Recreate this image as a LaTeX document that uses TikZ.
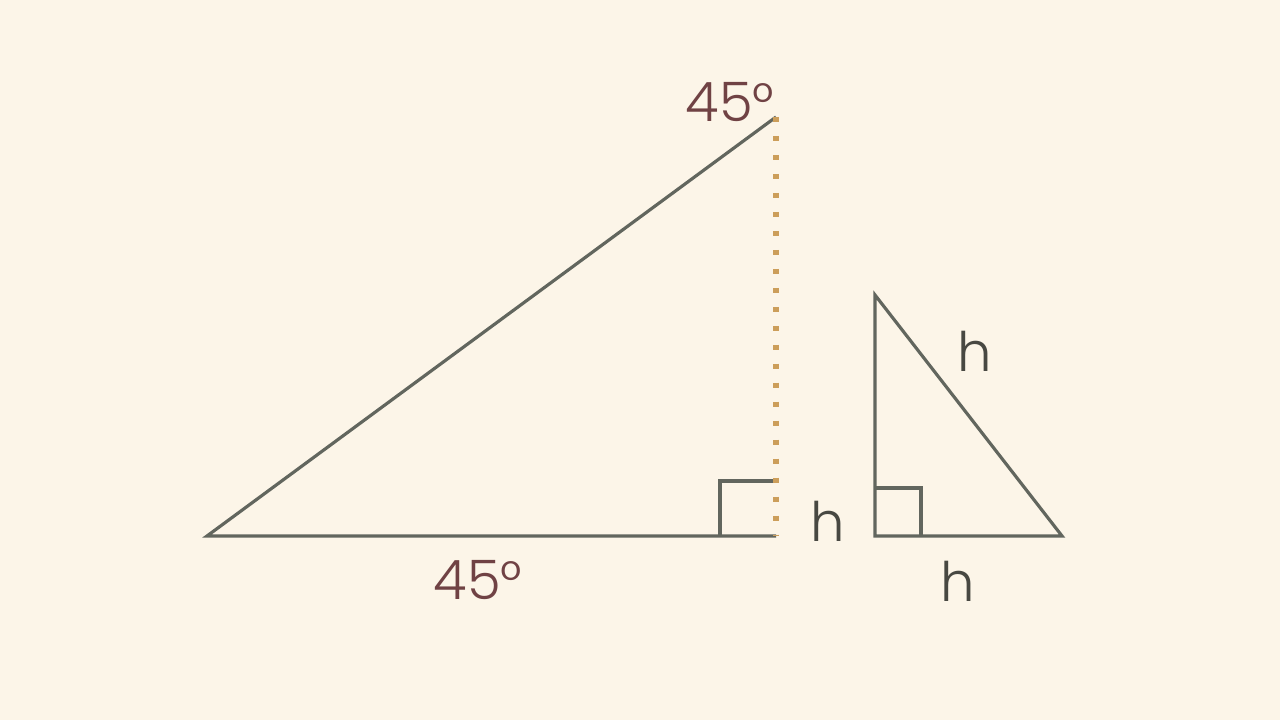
\documentclass[tikz,border=0pt]{standalone}
\usepackage{fontspec}
\setmainfont{Poppins Light}
\definecolor{paper}{RGB}{252,245,232}
\definecolor{edge}{RGB}{98,102,94}
\definecolor{dotline}{RGB}{204,158,90}
\definecolor{angtext}{RGB}{112,66,68}
\definecolor{htext}{RGB}{72,72,66}
\begin{document}
\begin{tikzpicture}[line width=.9pt,font=\fontsize{15.5}{18}\selectfont]
        \fill[paper](0,0)rectangle(12.8,7.2);
        \useasboundingbox(0,0)rectangle(12.8,7.2);
        % big triangle
        \coordinate(A)at(2.07,1.84);
        \coordinate(B)at(7.76,1.84);
        \coordinate(C)at(7.76,6.03);
        \draw[edge](B)--(A)--(C);
        \draw[edge](7.2,1.84)--(7.2,2.39)--(7.76,2.39);
        \draw[dotline,line width=1.5pt,dash pattern=on 1.5pt off 3.9pt](C)--(B);
        \node[angtext](topang)at(7.3,6.18){45°};
        \node[angtext](botang)at(4.78,1.4){45°};
        \node[htext](hleft)at(8.28,1.99){h};
        % small triangle
        \coordinate(D)at(8.75,1.84);
        \coordinate(E)at(8.75,4.25);
        \coordinate(F)at(10.62,1.84);
        \draw[edge](D)--(E)--(F)--cycle;
        \draw[edge](8.75,2.32)--(9.21,2.32)--(9.21,1.84);
        \node[htext](hhyp)at(9.75,3.69){h};
        \node[htext](hbase)at(9.58,1.39){h};
    \end{tikzpicture}
\end{document}
